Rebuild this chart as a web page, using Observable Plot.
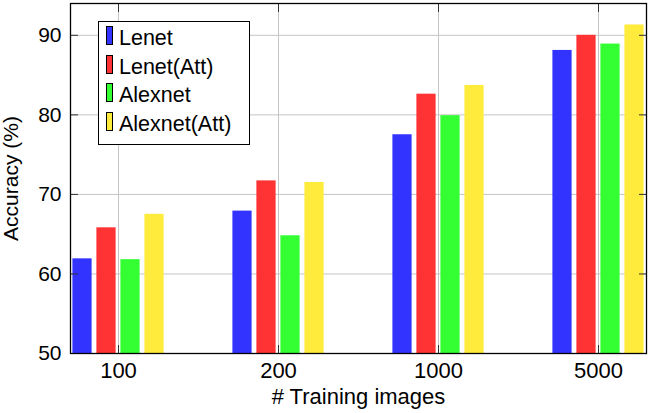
<!DOCTYPE html>
<html>
<head>
<meta charset="utf-8">
<script src="https://cdn.jsdelivr.net/npm/d3@7"></script>
<script src="https://cdn.jsdelivr.net/npm/@observablehq/plot@0.6"></script>
<style>
  html, body { margin: 0; padding: 0; background: #fff; }
  #wrap { position: relative; width: 651px; height: 413px; font-family: "Liberation Sans", sans-serif; }
  #legend {
    position: absolute; left: 98px; top: 21px; width: 152px; height: 124px;
    box-sizing: border-box; border: 1px solid #000; background: #fff;
    padding: 2px 0 0 7px; font-size: 21.5px; color: #000;
  }
  #legend .row { height: 28.7px; line-height: 28.7px; white-space: nowrap; }
  #legend .sw {
    display: inline-block; width: 7px; height: 19px; box-sizing: border-box;
    border: 1px solid #000; vertical-align: baseline; margin-right: 6px;
  }
</style>
</head>
<body>
<div id="wrap"></div>
<script>
// ---- data ----
const categories = ["100", "200", "1000", "5000"];
const seriesNames = ["Lenet", "Lenet(Att)", "Alexnet", "Alexnet(Att)"];
const lenet      = [61.9, 67.9, 77.5, 88.1];
const lenetAtt   = [65.8, 71.7, 82.6, 90.0];
const alexnet    = [61.8, 64.8, 79.9, 88.9];
const alexnetAtt = [67.5, 71.5, 83.7, 91.3];
const yTicks = [50, 60, 70, 80, 90];
const seriesColors = ["#3333ff", "#ff3333", "#33ff33", "#ffeb3b"];

// ---- layout config ----
const yDomain = [50, 94];
const barOffsets = [-0.225, -0.075, 0.075, 0.225];
const barWidth = 0.12;

const allSeries = [lenet, lenetAtt, alexnet, alexnetAtt];
const data = [];
allSeries.forEach((vals, si) => {
  vals.forEach((v, ci) => data.push({ci, si, series: seriesNames[si], value: v}));
});
const catIdx = categories.map((_, i) => i);

const plot = Plot.plot({
  width: 651,
  height: 413,
  marginLeft: 70,
  marginRight: 5,
  marginTop: 3,
  marginBottom: 60,
  style: {fontFamily: "Liberation Sans, sans-serif", fontSize: "20px", background: "#fff", color: "#000"},
  x: {type: "linear", domain: [-0.3, 3.3]},
  y: {domain: yDomain},
  color: {domain: seriesNames, range: seriesColors},
  marks: [
    Plot.gridY(yTicks, {stroke: "#c4c4c4", strokeOpacity: 1}),
    Plot.gridX(catIdx, {stroke: "#c4c4c4", strokeOpacity: 1}),
    Plot.rect(data, {
      x1: d => d.ci + barOffsets[d.si] - barWidth / 2,
      x2: d => d.ci + barOffsets[d.si] + barWidth / 2,
      y1: () => yDomain[0],
      y2: "value",
      fill: "series"
    }),
    Plot.axisY(yTicks, {anchor: "left", tickSize: -8, tickPadding: 17, stroke: "#333",
      label: "Accuracy (%)", labelAnchor: "center", labelArrow: "none", fontSize: 21}),
    Plot.axisY(yTicks, {anchor: "right", tickSize: -8, tickFormat: () => "", label: null, stroke: "#333"}),
    Plot.axisX(catIdx, {anchor: "bottom", tickSize: -8, tickPadding: 17, stroke: "#333",
      tickFormat: i => categories[i],
      label: "# Training images", labelAnchor: "center", labelArrow: "none", labelOffset: 50, fontSize: 22}),
    Plot.axisX(catIdx, {anchor: "top", tickSize: -8, tickFormat: () => "", label: null, stroke: "#333"}),
    Plot.frame({stroke: "#000", strokeWidth: 1.3})
  ]
});

const wrap = document.getElementById("wrap");
wrap.appendChild(plot);

const legend = document.createElement("div");
legend.id = "legend";
seriesNames.forEach((name, i) => {
  const row = document.createElement("div");
  row.className = "row";
  const sw = document.createElement("span");
  sw.className = "sw";
  sw.style.background = seriesColors[i];
  row.appendChild(sw);
  row.appendChild(document.createTextNode(name));
  legend.appendChild(row);
});
wrap.appendChild(legend);
</script>
</body>
</html>
